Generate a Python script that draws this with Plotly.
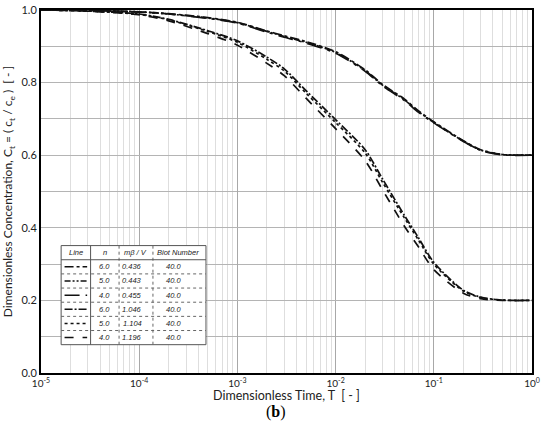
import plotly.graph_objects as go

# dimensionless time T
t_vals = [1e-5, 3e-5, 1e-4, 2e-4, 5e-4, 1e-3, 2e-3, 3e-3, 5e-3, 1e-2, 2e-2, 3e-2, 5e-2, 7e-2,
          1e-1, 2e-1, 3e-1, 5e-1, 1.0]

# upper family (m*beta/V ~ 0.44), three curves almost on top of each other
c_n6_0436 = [1.000, 0.999, 0.995, 0.990, 0.979, 0.966, 0.942, 0.929, 0.913, 0.885, 0.835, 0.795,
             0.755, 0.722, 0.692, 0.640, 0.615, 0.602, 0.600]
c_n5_0443 = [1.000, 0.999, 0.995, 0.989, 0.978, 0.965, 0.941, 0.927, 0.911, 0.883, 0.833, 0.793,
             0.753, 0.720, 0.690, 0.639, 0.614, 0.602, 0.600]
c_n4_0455 = [1.000, 0.999, 0.994, 0.989, 0.977, 0.964, 0.939, 0.925, 0.909, 0.881, 0.831, 0.791,
             0.751, 0.718, 0.689, 0.638, 0.613, 0.601, 0.600]

# lower family (m*beta/V ~ 1.1)
c_n6_1046 = [1.000, 0.997, 0.989, 0.974, 0.943, 0.915, 0.870, 0.838, 0.778, 0.698, 0.615, 0.535,
             0.435, 0.372, 0.305, 0.228, 0.209, 0.201, 0.200]
c_n5_1104 = [1.000, 0.997, 0.988, 0.973, 0.941, 0.911, 0.864, 0.832, 0.771, 0.690, 0.606, 0.526,
             0.428, 0.366, 0.300, 0.226, 0.208, 0.201, 0.200]
c_n4_1196 = [1.000, 0.997, 0.987, 0.970, 0.935, 0.903, 0.853, 0.819, 0.757, 0.673, 0.585, 0.505,
             0.405, 0.347, 0.285, 0.220, 0.205, 0.200, 0.200]

# inset table contents
n_col = ["6.0", "5.0", "4.0", "6.0", "5.0", "4.0"]
mbv_col = ["0.436", "0.443", "0.455", "1.046", "1.104", "1.196"]
biot_col = ["40.0", "40.0", "40.0", "40.0", "40.0", "40.0"]
dashes = ["dashdot", "6px,2px,2px,2px,2px,2px", "longdashdot", "8px,2px,2px,2px", "dot", "dash"]

curves = [c_n6_0436, c_n5_0443, c_n4_0455, c_n6_1046, c_n5_1104, c_n4_1196]

fig = go.Figure()
for i, c in enumerate(curves):
    fig.add_trace(go.Scatter(x=t_vals, y=c, mode="lines", line_shape="spline",
                             line=dict(color="#111111", width=1.7, dash=dashes[i], smoothing=0.8),
                             showlegend=False, hoverinfo="skip"))

# x tick labels 10^n
xt = [1e-5, 1e-4, 1e-3, 1e-2, 1e-1, 1.0]
xt_text = ["10<sup>-5</sup>", "10<sup>-4</sup>", "10<sup>-3</sup>", "10<sup>-2</sup>",
           "10<sup>-1</sup>", "10<sup>0</sup>"]

fig.update_xaxes(type="log", range=[-5, 0], tickvals=xt, ticktext=xt_text,
                 showgrid=True, gridcolor="#a8a8a8", gridwidth=1.2,
                 minor=dict(showgrid=True, gridcolor="#dedede", dtick="D1", ticks=""),
                 showline=True, linecolor="black", linewidth=2, mirror=True,
                 ticks="", tickfont=dict(size=10, color="#222"), ticklabelstandoff=0,
                 zeroline=False, automargin=False)
fig.update_yaxes(range=[0, 1], tickvals=[0, 0.2, 0.4, 0.6, 0.8, 1.0],
                 ticktext=["0.0", "0.2", "0.4", "0.6", "0.8", "1.0"],
                 showgrid=True, gridcolor="#b4b4b4", gridwidth=1,
                 minor=dict(showgrid=True, gridcolor="#b4b4b4", dtick=0.1, ticks=""),
                 showline=True, linecolor="black", linewidth=2, mirror=True,
                 ticks="", tickfont=dict(size=11, color="#222"),
                 title=dict(text="Dimensionless Concentration, C<sub>t</sub> = ( c<sub>t</sub> / c<sub>e</sub> )  [ - ]",
                            standoff=6, font=dict(size=12, color="#222")),
                 zeroline=False, automargin=False)

# inset table (paper units inside the plotting area)
tx = [0.041, 0.101, 0.159, 0.228, 0.336]   # column boundaries
txt_x = [0.071, 0.130, 0.186, 0.270]       # text centres per column
hdr_x = [0.071, 0.130, 0.193, 0.280]
ty_top = 0.351
hdr_h = 0.039
row_h = 0.039
ty_bot = ty_top - hdr_h - 6 * row_h
shapes = [dict(type="rect", xref="paper", yref="paper", x0=tx[0], x1=tx[4], y0=ty_bot, y1=ty_top,
               line=dict(color="#555", width=1), fillcolor="white", layer="above")]
shapes.append(dict(type="line", xref="paper", yref="paper", x0=tx[1], x1=tx[1], y0=ty_bot, y1=ty_top,
                   line=dict(color="#555", width=1), layer="above"))
for k in (2, 3):
    shapes.append(dict(type="line", xref="paper", yref="paper", x0=tx[k], x1=tx[k], y0=ty_bot, y1=ty_top,
                       line=dict(color="#666", width=1, dash="dot"), layer="above"))
shapes.append(dict(type="line", xref="paper", yref="paper", x0=tx[0], x1=tx[4],
                   y0=ty_top - hdr_h, y1=ty_top - hdr_h, line=dict(color="#555", width=1), layer="above"))
for r in range(1, 6):
    yy = ty_top - hdr_h - r * row_h
    shapes.append(dict(type="line", xref="paper", yref="paper", x0=tx[0], x1=tx[4], y0=yy, y1=yy,
                       line=dict(color="#666", width=1, dash="dot"), layer="above"))
for r in range(6):
    yy = ty_top - hdr_h - (r + 0.5) * row_h
    shapes.append(dict(type="line", xref="paper", yref="paper", x0=tx[0] + 0.007, x1=tx[1] - 0.007,
                       y0=yy, y1=yy, line=dict(color="#111", width=1.5, dash=dashes[r]), layer="above"))

annots = []
fnt = dict(size=7.5, color="#222", family="Liberation Sans", style="italic")
headers = ["Line", "n", "m\u03b2 / V", "Biot Number"]
for k, h in enumerate(headers):
    annots.append(dict(x=hdr_x[k], y=ty_top - hdr_h / 2, xref="paper", yref="paper",
                       text=h, showarrow=False, font=fnt, xanchor="center", yanchor="middle"))
for r in range(6):
    yy = ty_top - hdr_h - (r + 0.5) * row_h
    for k, col in ((1, n_col), (2, mbv_col), (3, biot_col)):
        annots.append(dict(x=txt_x[k], y=yy, xref="paper", yref="paper",
                           text=col[r], showarrow=False, font=fnt, xanchor="center", yanchor="middle"))

# x axis title and panel label
annots.append(dict(x=0.5, y=-0.063, xref="paper", yref="paper", text="Dimensionless Time, T  [ - ]",
                   showarrow=False, xanchor="center", yanchor="middle", font=dict(size=12.5, color="#222")))
annots.append(dict(x=0.478, y=-0.107, xref="paper", yref="paper", text="(<b>b</b>)", showarrow=False,
                   xanchor="center", yanchor="middle",
                   font=dict(size=16, color="black", family="Liberation Serif")))

fig.update_layout(width=550, height=438, margin=dict(l=41, r=18, t=10, b=65, autoexpand=False),
                  plot_bgcolor="white", paper_bgcolor="white",
                  font=dict(family="Lato", color="#222"),
                  shapes=shapes, annotations=annots)

# page body margin would shift the figure by 8px
fig.write_html("out.html", config={"displayModeBar": False},
               post_script="document.body.style.margin='0px';")
